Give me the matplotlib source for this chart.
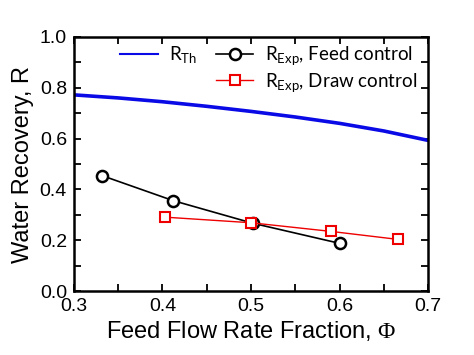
import matplotlib
matplotlib.use("Agg")
import matplotlib.pyplot as plt
from matplotlib.lines import Line2D
from matplotlib.ticker import MultipleLocator, FormatStrFormatter

plt.rcParams['mathtext.fontset'] = 'custom'
plt.rcParams['mathtext.rm'] = 'Lato'
plt.rcParams['mathtext.it'] = 'Lato:italic'
plt.rcParams['mathtext.sf'] = 'Liberation Serif'

phi_th = [0.30, 0.35, 0.40, 0.45, 0.50, 0.55, 0.60, 0.65, 0.70]
r_th = [0.772, 0.760, 0.745, 0.727, 0.707, 0.685, 0.660, 0.630, 0.593]

phi_feed = [0.332, 0.412, 0.502, 0.600]
r_feed = [0.454, 0.356, 0.267, 0.188]

phi_draw = [0.4025, 0.4997, 0.590, 0.6658]
r_draw = [0.291, 0.269, 0.235, 0.2035]

fig = plt.figure(figsize=(4.74, 3.55), dpi=100)
ax = fig.add_axes([0.156, 0.180, 0.747, 0.716])

ax.plot(phi_th, r_th, color='#0a0ae6', lw=2.6)
lfeed, = ax.plot(phi_feed, r_feed, color='black', lw=1.2, marker='o', ms=8,
                 mfc='white', mec='black', mew=1.8)
ldraw, = ax.plot(phi_draw, r_draw, color='#ee0000', lw=1.0, marker='s', ms=7.5,
                 mfc='white', mec='#ee0000', mew=1.5)

ax.set_xlim(0.3, 0.7)
ax.set_ylim(0.0, 1.0)
ax.xaxis.set_major_locator(MultipleLocator(0.1))
ax.xaxis.set_minor_locator(MultipleLocator(0.05))
ax.yaxis.set_major_locator(MultipleLocator(0.2))
ax.yaxis.set_minor_locator(MultipleLocator(0.1))
ax.tick_params(which='both', direction='in', top=True, right=True, width=1.3,
               labelsize=14, pad=5, labelfontfamily='Liberation Sans')
ax.tick_params(which='major', length=5)
ax.tick_params(which='minor', length=5)
ax.xaxis.set_major_formatter(FormatStrFormatter('%.1f'))
ax.yaxis.set_major_formatter(FormatStrFormatter('%.1f'))
for s in ax.spines.values():
    s.set_linewidth(1.8)

ax.set_xlabel(r'Feed Flow Rate Fraction, $\mathsf{\Phi}$', fontsize=17,
              family='Liberation Sans', labelpad=3)
ax.set_ylabel('Water Recovery, R', fontsize=17, family='Liberation Sans', labelpad=4)

lth_proxy = Line2D([], [], color='#0a0ae6', lw=1.5)
blank = Line2D([], [], color='none')
leg = ax.legend([lth_proxy, blank, lfeed, ldraw],
                [r'R$_{\mathrm{Th}}$', '', r'R$_{\mathrm{Exp}}$, Feed control',
                 r'R$_{\mathrm{Exp}}$, Draw control'],
                ncol=2, loc='upper right', bbox_to_anchor=(1.0, 1.015),
                frameon=False, prop={'family': 'Lato', 'size': 13.5},
                handlelength=2.0, handletextpad=0.6, columnspacing=1.0,
                labelspacing=0.2, borderaxespad=0.2)

fig.savefig('out.png', dpi=100)
